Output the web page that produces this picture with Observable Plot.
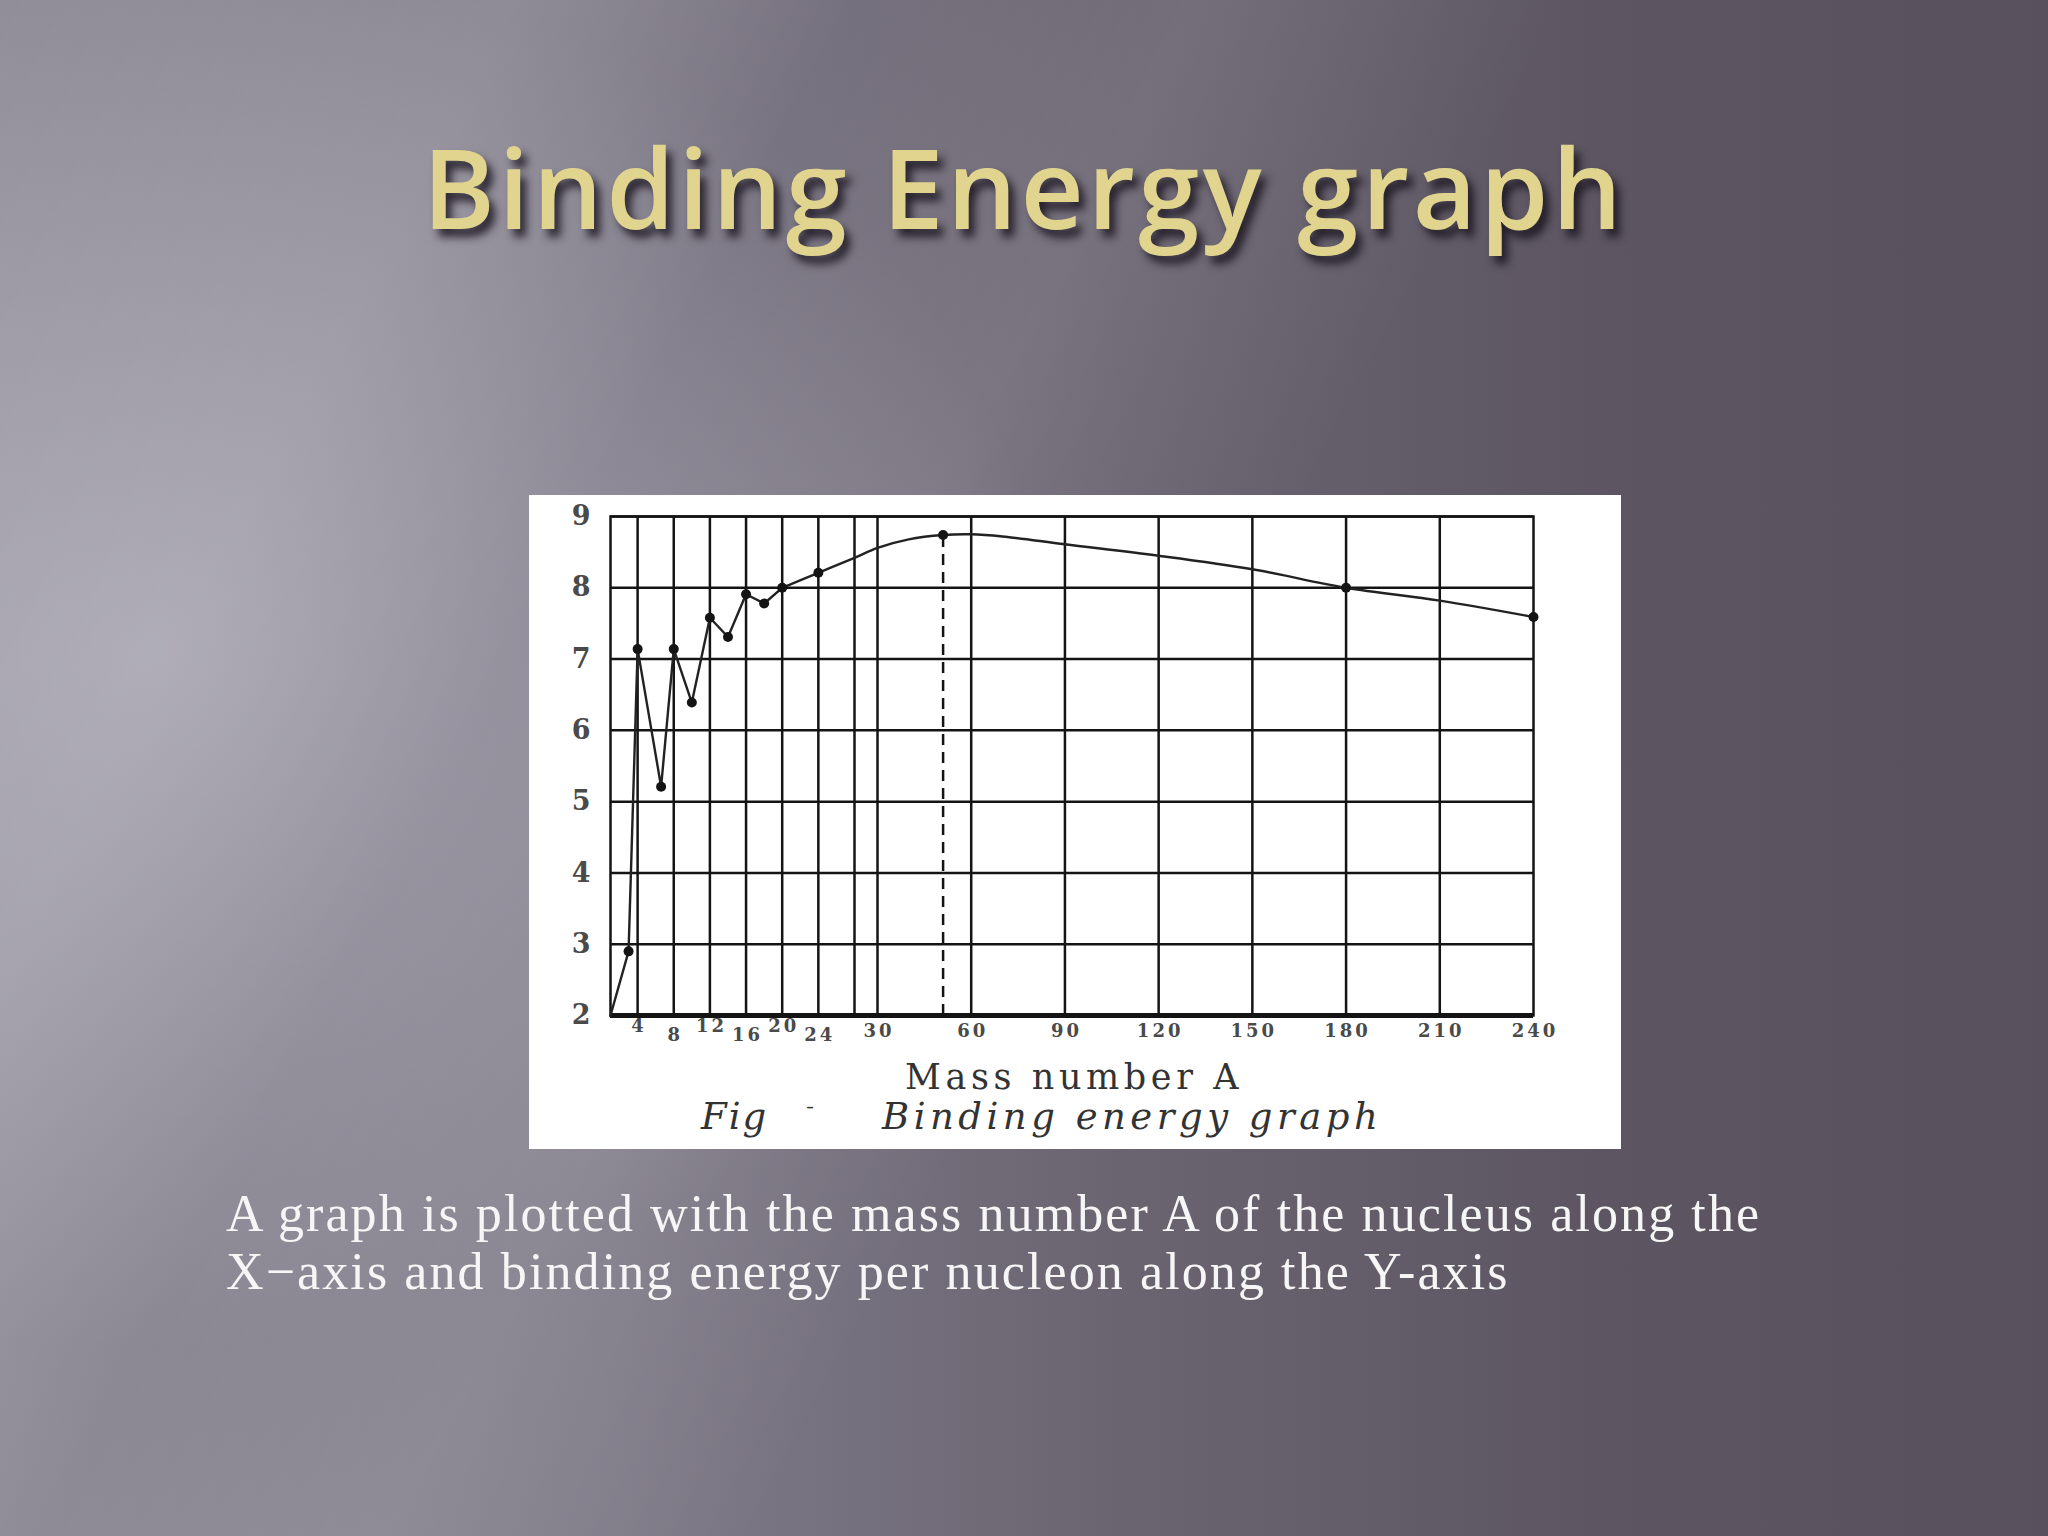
<!DOCTYPE html>
<html>
<head>
<meta charset="utf-8">
<script src="https://cdn.jsdelivr.net/npm/d3@7"></script>
<script src="https://cdn.jsdelivr.net/npm/@observablehq/plot@0.6"></script>
<style>
  html, body { margin: 0; padding: 0; }
  body {
    width: 2048px; height: 1536px; position: relative; overflow: hidden;
    background:
      linear-gradient(118deg, rgba(255,255,255,0) 0%, rgba(255,255,255,0.10) 18%, rgba(255,255,255,0) 30%, rgba(255,255,255,0.08) 42%, rgba(255,255,255,0) 55%),
      radial-gradient(ellipse 900px 700px at 150px 650px, rgba(200,198,210,0.45), rgba(200,198,210,0) 100%),
      linear-gradient(to right, #8f8c98 0%, #7f7b88 30%, #6a6471 55%, #5d5662 78%, #58515d 100%);
  }
  #title {
    position: absolute; left: 0; top: 112px; width: 2048px; text-align: center;
    font-family: "Open Sans", sans-serif; font-size: 110px; font-weight: 600; line-height: 1.362;
    color: #e0d48f; letter-spacing: 3.5px;
    text-shadow: 6px 8px 8px rgba(20,15,25,0.8);
  }
  #panel {
    position: absolute; left: 529px; top: 495px; width: 1092px; height: 654px;
    background: #ffffff;
  }
  #chart { position: absolute; left: 0; top: 0; }
  .xt text { letter-spacing: 3px; }
  .cap { position: absolute; font-family: "DejaVu Serif", serif; color: #333; white-space: nowrap; }
  #xlabel { left: 376px; top: 562px; font-size: 35px; letter-spacing: 4.6px; }
  #fig { left: 172px; top: 600px; font-size: 37px; font-style: italic; letter-spacing: 2px; }
  #figmark { left: 276px; top: 608px; font-size: 20px; }
  #figtitle { left: 353px; top: 600px; font-size: 37px; font-style: italic; letter-spacing: 4.5px; }
  #body {
    position: absolute; left: 226px; top: 1185px; width: 1800px;
    font-family: "Liberation Serif", serif; font-size: 52px; line-height: 58px;
    letter-spacing: 2.1px; color: #f6f6f6;
  }
</style>
</head>
<body>
<div id="title">Binding Energy graph</div>
<div id="panel">
  <div id="chart"></div>
  <div class="cap" id="xlabel">Mass number A</div>
  <div class="cap" id="fig">Fig</div>
  <div class="cap" id="figmark">ˉ</div>
  <div class="cap" id="figtitle">Binding energy graph</div>
</div>
<div id="body">A graph is plotted with the mass number A of the nucleus along the<br>X−axis and binding energy per nucleon along the Y-axis</div>
<script>
// Mass number breakpoints of the non-uniform x axis
const xBreaks = [1, 28, 30, 240];
// Tick labels
const xTicksNormal = [30, 60, 90, 120, 150, 180, 210, 240];
const xTicksUp = [4, 12, 20];
const xTicksDown = [8, 16, 24];
const xGrid = [4, 8, 12, 16, 20, 24, 28, 30, 60, 90, 120, 150, 180, 210];
const yTicks = [2, 3, 4, 5, 6, 7, 8, 9];

// Light nuclei: straight segments
const lightA  = [1, 3, 4, 6.6, 8, 10, 12, 14, 16, 18, 20];
const lightBE = [2, 2.9, 7.14, 5.21, 7.14, 6.39, 7.58, 7.31, 7.91, 7.78, 8.0];

// Smooth curve for heavier nuclei
const curveA  = [20, 24, 28, 30, 40, 51, 60, 70, 90, 120, 150, 180, 210, 240];
const curveBE = [8.0, 8.21, 8.42, 8.56, 8.68, 8.74, 8.75, 8.72, 8.61, 8.45, 8.26, 8.0, 7.82, 7.59];

// Marked points
const dotA  = [3, 4, 6.6, 8, 10, 12, 14, 16, 18, 20, 24, 51, 180, 240];
const dotBE = [2.9, 7.14, 5.21, 7.14, 6.39, 7.58, 7.31, 7.91, 7.78, 8.0, 8.21, 8.74, 8.0, 7.59];

// Peak (dashed drop line)
const peakA = [51];
const peakBE = [8.74];

const light = lightA.map((a, i) => ({A: a, BE: lightBE[i]}));
const curve = curveA.map((a, i) => ({A: a, BE: curveBE[i]}));
const dots = dotA.map((a, i) => ({A: a, BE: dotBE[i]}));
const peak = peakA.map((a, i) => ({A: a, BE: peakBE[i]}));

const ink = "#141414";
const tickFont = {fontFamily: "DejaVu Serif", fill: "#4a4a4a", label: null, tickSize: 0, tickFormat: d => String(d), fontWeight: "bold"};
const xTickFont = {...tickFont, fontSize: 18, className: "xt", dx: 1.5};

const chart = Plot.plot({
  width: 1092,
  height: 560,
  marginTop: 21,
  marginBottom: 40,
  marginLeft: 81,
  marginRight: 88,
  style: {background: "transparent", fontFamily: "DejaVu Serif"},
  x: {type: "linear", domain: xBreaks, range: [81, 325, 348, 1004]},
  y: {domain: [2, 9]},
  marks: [
    Plot.gridX(xGrid, {stroke: ink, strokeOpacity: 1, strokeWidth: 2.5}),
    Plot.gridY(yTicks, {stroke: ink, strokeOpacity: 1, strokeWidth: 2.5}),
    Plot.frame({stroke: ink, strokeWidth: 2.5}),
    Plot.ruleY([2], {stroke: ink, strokeWidth: 5}),
    Plot.ruleX(peak, {x: "A", y1: 2, y2: "BE", stroke: ink, strokeWidth: 2.5, strokeDasharray: "11,7"}),
    Plot.line(light, {x: "A", y: "BE", stroke: "#222", strokeWidth: 2.4}),
    Plot.line(curve, {x: "A", y: "BE", stroke: "#222", strokeWidth: 2.4, curve: "catmull-rom"}),
    Plot.dot(dots, {x: "A", y: "BE", r: 5, fill: ink, stroke: "none"}),
    Plot.axisY(yTicks, {...tickFont, tickPadding: 20, fontSize: 27}),
    Plot.axisX(xTicksNormal, {...xTickFont, tickPadding: 9}),
    Plot.axisX(xTicksUp, {...xTickFont, tickPadding: 4}),
    Plot.axisX(xTicksDown, {...xTickFont, tickPadding: 13})
  ]
});
document.getElementById("chart").appendChild(chart);
</script>
</body>
</html>
